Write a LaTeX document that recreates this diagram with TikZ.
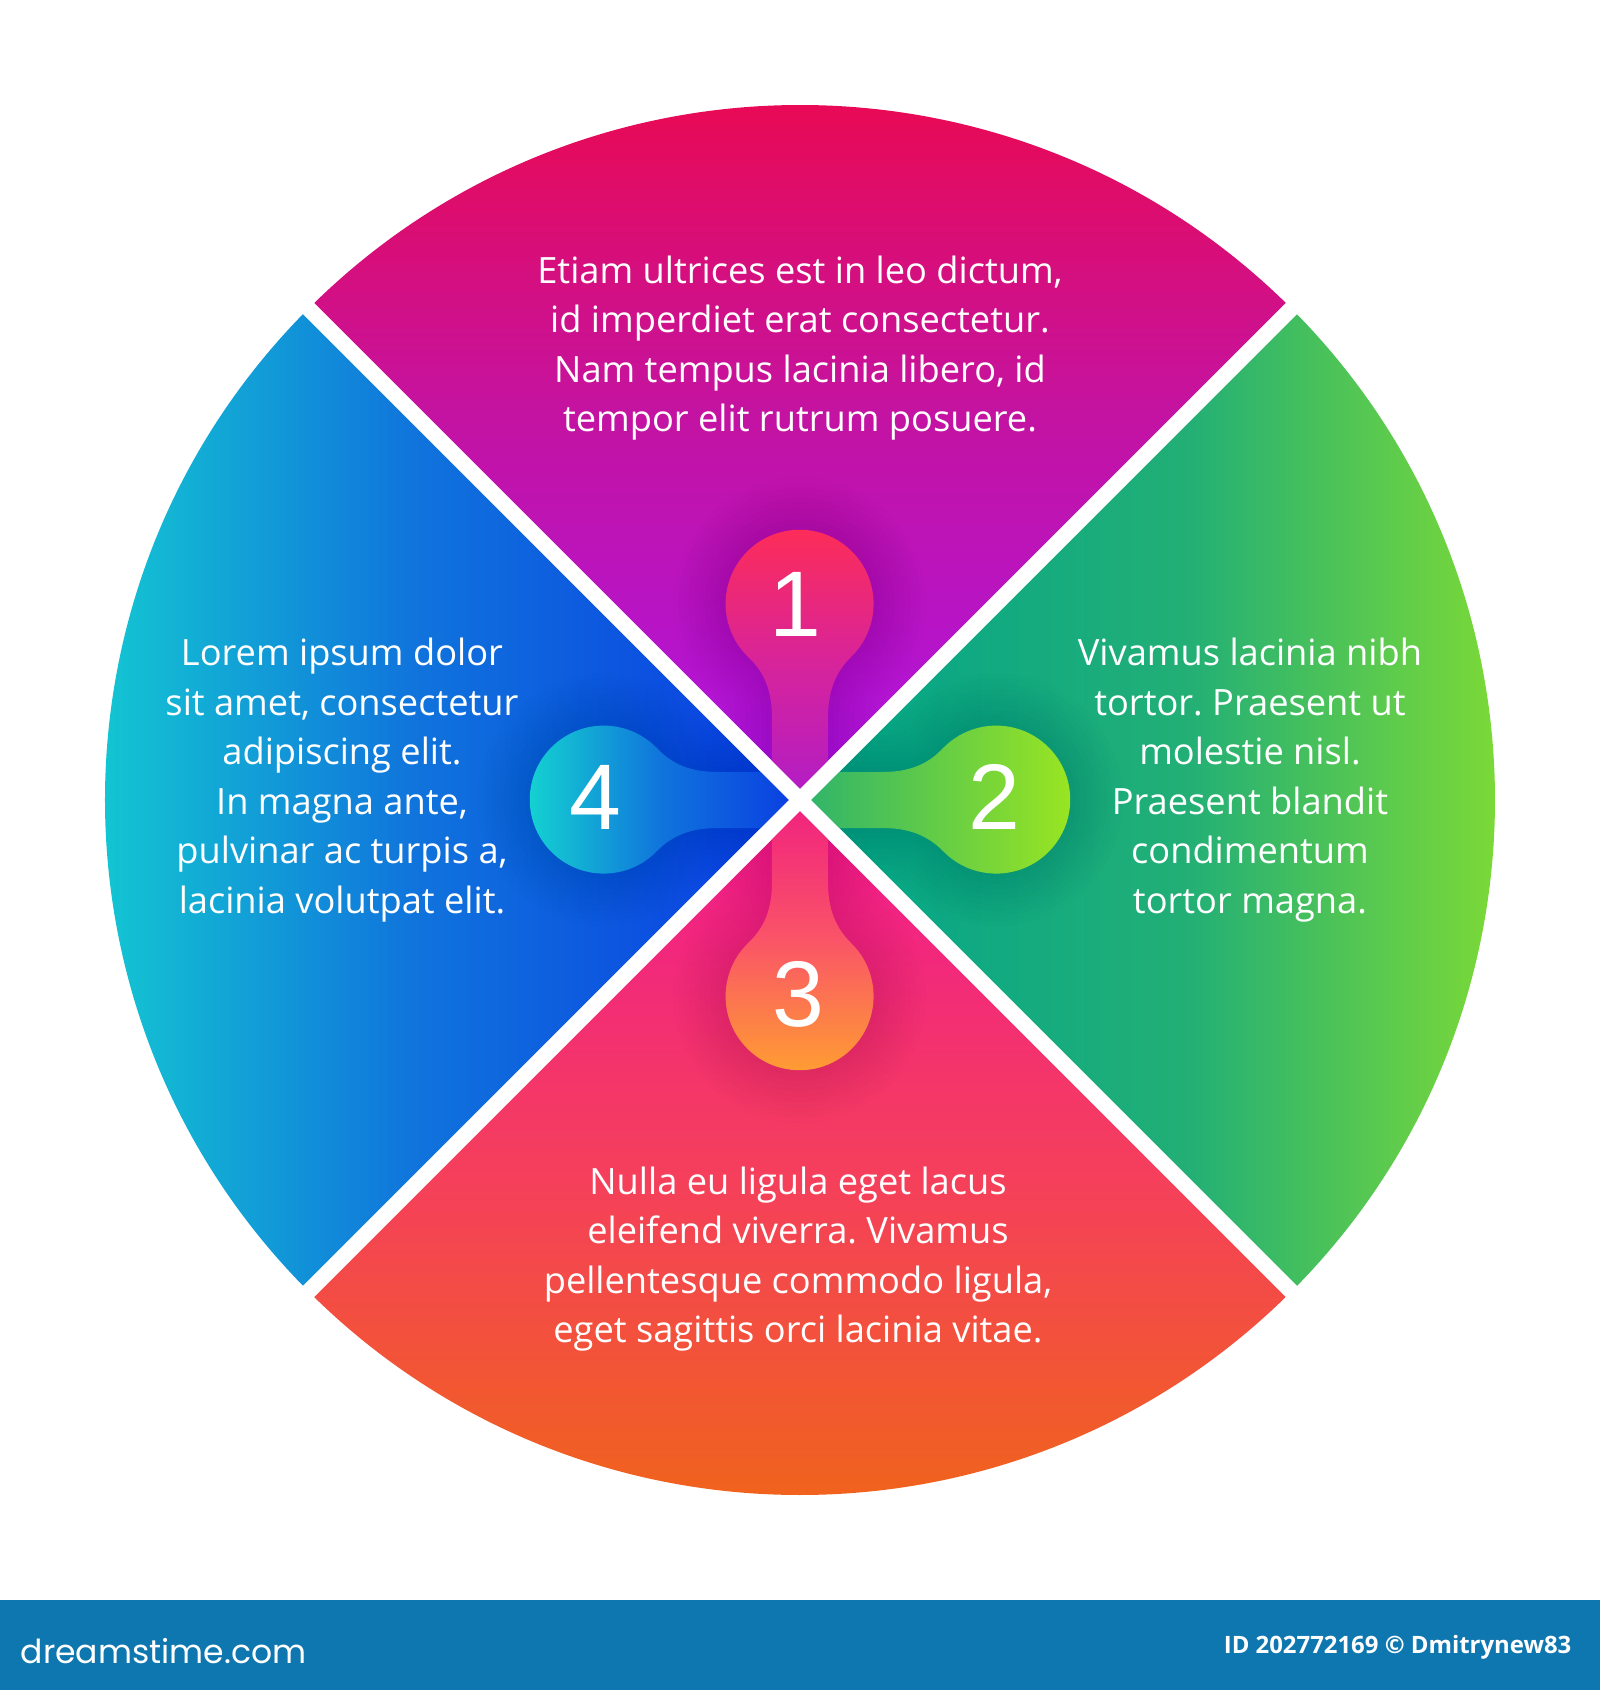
\documentclass[tikz,border=0pt]{standalone}
\usepackage{fontspec}
\setmainfont{Open Sans}
\newfontfamily\numfont{Liberation Sans}
\newfontfamily\logofont{Poppins}
\definecolor{topA}{HTML}{F00844}
\definecolor{topB}{HTML}{C413A2}
\definecolor{topC}{HTML}{AE15E2}
\definecolor{rightA}{HTML}{02A58A}
\definecolor{rightB}{HTML}{22AF76}
\definecolor{rightC}{HTML}{8EE22A}
\definecolor{bottomA}{HTML}{F01A90}
\definecolor{bottomB}{HTML}{F5405A}
\definecolor{bottomC}{HTML}{EF6A10}
\definecolor{leftA}{HTML}{14D6D0}
\definecolor{leftB}{HTML}{1074DC}
\definecolor{leftC}{HTML}{0A3CE2}
\definecolor{blobtopA}{HTML}{FF2D55}
\definecolor{blobtopB}{HTML}{D8249A}
\definecolor{blobtopC}{HTML}{B01CC8}
\definecolor{blobrightA}{HTML}{2DB36C}
\definecolor{blobrightB}{HTML}{9CE620}
\definecolor{blobbottomA}{HTML}{F0207F}
\definecolor{blobbottomB}{HTML}{FA5468}
\definecolor{blobbottomC}{HTML}{FFA030}
\definecolor{barblue}{HTML}{0F77B0}
\newcommand{\sectortop}{(0,11.3) -- (485.8,497.1) arc[start angle=45.66, end angle=134.34, radius=695] -- cycle}
\newcommand{\sectorright}{(11.3,0) -- (497.1,-485.8) arc[start angle=-44.34, end angle=44.34, radius=695] -- cycle}
\newcommand{\sectorbottom}{(0,-11.3) -- (-485.8,-497.1) arc[start angle=225.66, end angle=314.34, radius=695] -- cycle}
\newcommand{\sectorleft}{(-11.3,0) -- (-497.1,485.8) arc[start angle=135.66, end angle=224.34, radius=695] -- cycle}
\newcommand{\blobtop}{(28,0) -- (28,82) .. controls (28,110) and (36,128) .. (51,143) arc[start angle=-46, end angle=226, radius=74] .. controls (-36,128) and (-28,110) .. (-28,82) -- (-28,0) -- cycle}
\newcommand{\blobright}{(0,-28) -- (82,-28) .. controls (110,-28) and (128,-36) .. (143,-51) arc[start angle=-136, end angle=136, radius=74] .. controls (128,36) and (110,28) .. (82,28) -- (0,28) -- cycle}
\newcommand{\blobbottom}{(28,0) -- (28,-82) .. controls (28,-110) and (36,-128) .. (51,-143) arc[start angle=46, end angle=-226, radius=74] .. controls (-36,-128) and (-28,-110) .. (-28,-82) -- (-28,0) -- cycle}
\newcommand{\blobleft}{(0,-28) -- (-82,-28) .. controls (-110,-28) and (-128,-36) .. (-143,-51) arc[start angle=-44, end angle=-316, radius=74] .. controls (-128,36) and (-110,28) .. (-82,28) -- (0,28) -- cycle}
\begin{document}
\begin{tikzpicture}[x=0.01cm, y=0.01cm,
    sectortext/.style={white, align=center, font=\frenchspacing\fontsize{10.3}{14.1}\selectfont},
    numtext/.style={white, font=\numfont\fontsize{26.5}{28}\selectfont},
    softshadow/.style={black, opacity=0.009, line join=round}]
    \useasboundingbox (-800,-890) rectangle (800,800);
    \begin{scope}
        \clip \sectortop;
        \shade[top color=topA, bottom color=topC, middle color=topB] \sectortop;
        \foreach \w in {3,6,...,30} \draw[softshadow, line width=\w pt] \blobtop;
        \shade[top color=blobtopA, bottom color=blobtopC, middle color=blobtopB] \blobtop;
    \end{scope}
    \begin{scope}
        \clip \sectorright;
        \shade[left color=rightA, right color=rightC, middle color=rightB] \sectorright;
        \foreach \w in {3,6,...,30} \draw[softshadow, line width=\w pt] \blobright;
        \shade[left color=blobrightA, right color=blobrightB] \blobright;
    \end{scope}
    \begin{scope}
        \clip \sectorbottom;
        \shade[top color=bottomA, bottom color=bottomC, middle color=bottomB] \sectorbottom;
        \foreach \w in {3,6,...,30} \draw[softshadow, line width=\w pt] \blobbottom;
        \shade[top color=blobbottomA, bottom color=blobbottomC, middle color=blobbottomB] \blobbottom;
    \end{scope}
    \begin{scope}
        \clip \sectorleft;
        \shade[left color=leftA, right color=leftC, middle color=leftB] \sectorleft;
        \foreach \w in {3,6,...,30} \draw[softshadow, line width=\w pt] \blobleft;
        \shade[left color=leftA, right color=leftC, middle color=leftB] \blobleft;
    \end{scope}
    \node[numtext] (numone) at (-5,196) {1};
    \node[numtext] (numtwo) at (194,3) {2};
    \node[numtext] (numthree) at (-2,-194) {3};
    \node[numtext] (numfour) at (-205,3) {4};
    \node[sectortext] (texttop) at (0,452) {Etiam ultrices est in leo dictum,\\id imperdiet erat consectetur.\\Nam tempus lacinia libero, id\\tempor elit rutrum posuere.};
    \node[sectortext] (textright) at (450,20) {Vivamus lacinia nibh\\tortor. Praesent ut\\molestie nisl.\\Praesent blandit\\condimentum\\tortor magna.};
    \node[sectortext] (textbottom) at (-2,-459) {Nulla eu ligula eget lacus\\eleifend viverra. Vivamus\\pellentesque commodo ligula,\\eget sagittis orci lacinia vitae.};
    \node[sectortext] (textleft) at (-458,20) {Lorem ipsum dolor\\sit amet, consectetur\\adipiscing elit.\\In magna ante,\\pulvinar ac turpis a,\\lacinia volutpat elit.};
    \fill[barblue] (-800,-800) rectangle (800,-890);
    \node[white, anchor=base west, inner sep=0pt, font=\logofont\fontsize{9.4}{11}\selectfont] (barlogo) at (-780,-863) {dreamstime.com};
    \node[white, anchor=base east, inner sep=0pt, font=\bfseries\fontsize{6.8}{8}\selectfont] (barid) at (772,-853) {ID 202772169 © Dmitrynew83};
\end{tikzpicture}
\end{document}
